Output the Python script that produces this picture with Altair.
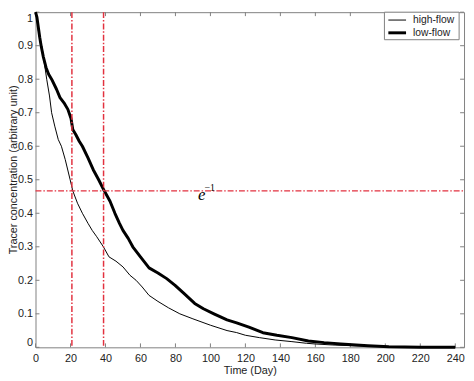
import altair as alt
import pandas as pd

# ---- data ----
high_day = [0, 1, 2, 3.6, 5, 6.4, 8, 9.2, 11, 13, 14.8, 17, 19.8, 21.3, 24, 26.8, 30,
            32.4, 35, 38.8, 42, 46, 50, 54, 57.5, 61, 64.9, 70, 76, 82.5, 90, 100,
            109.5, 115, 120, 128, 137, 146.6, 155, 160, 170, 180, 200, 220, 240]
high_val = [1.0, 0.97, 0.93, 0.90, 0.85, 0.80, 0.75, 0.70, 0.66, 0.62, 0.60, 0.56, 0.50,
            0.467, 0.43, 0.40, 0.37, 0.349, 0.33, 0.30, 0.27, 0.257, 0.24, 0.215, 0.20,
            0.18, 0.155, 0.137, 0.118, 0.10, 0.085, 0.066, 0.05, 0.044, 0.036, 0.029,
            0.022, 0.017, 0.012, 0.010, 0.007, 0.005, 0.002, 0.001, 0.0]

low_day = [0, 0.8, 1.6, 2.4, 3.2, 4.5, 6, 7.5, 9.2, 12, 14, 16.6, 18.5, 20.3, 21.3, 23,
           25, 26.8, 30, 33, 36.1, 39.3, 42.6, 45.4, 48, 50, 53, 55.6, 60, 64.9, 70, 75,
           79.8, 85, 91, 96, 102, 109.5, 115, 122, 130, 138, 146.6, 156, 165, 174.5, 190,
           202, 220, 240]
low_val = [1.0, 0.985, 0.955, 0.925, 0.90, 0.866, 0.835, 0.815, 0.80, 0.77, 0.745,
           0.727, 0.71, 0.683, 0.65, 0.635, 0.615, 0.60, 0.565, 0.53, 0.50, 0.467, 0.436,
           0.40, 0.37, 0.349, 0.325, 0.30, 0.27, 0.237, 0.222, 0.205, 0.185, 0.16, 0.131,
           0.115, 0.10, 0.082, 0.073, 0.06, 0.0436, 0.036, 0.029, 0.019, 0.014, 0.01,
           0.005, 0.002, 0.0005, 0.0]

series_names = ["high-flow", "low-flow"]
series_widths = [1, 3]
vline_days = [20.8, 38.9]
hline_value = [0.467]
x_ticks = [0, 20, 40, 60, 80, 100, 120, 140, 160, 180, 200, 220, 240]
y_ticks = [0, 0.1, 0.2, 0.3, 0.4, 0.5, 0.6, 0.7, 0.8, 0.9, 1]

curves = pd.concat([
    pd.DataFrame({"day": high_day, "value": high_val, "series": series_names[0]}),
    pd.DataFrame({"day": low_day, "value": low_val, "series": series_names[1]}),
])

W, H = 436, 341
RED = "#e2313f"
GRAY = "#808080"
FONT = "Liberation Sans"

xs = alt.Scale(domain=[0, 245], nice=False, zero=False)
ys = alt.Scale(domain=[0, 1], nice=False)

x_axis = alt.Axis(values=x_ticks, tickSize=0, domain=False, grid=False,
                  labelPadding=5, labelFlush=False, titlePadding=2)
y_axis = alt.Axis(values=y_ticks, format="~g", tickSize=0, domain=False, grid=False,
                  labelPadding=3, labelFlush=True,
                  titleX=-17, titleY=160, titleBaseline="bottom")
XT = "Time (Day)"
YT = "Tracer concentration (arbitrary unit)"


def X(f):
    return alt.X(f, scale=xs, axis=x_axis, title=XT)


def Y(f):
    return alt.Y(f, scale=ys, axis=y_axis, title=YT)


xt = pd.DataFrame({"t": x_ticks})
yt = pd.DataFrame({"v": y_ticks})
tick_bot = alt.Chart(xt).mark_rule(color=GRAY).encode(
    x=X("t:Q"), y=alt.value(H - 4), y2=alt.value(H))
tick_top = alt.Chart(xt).mark_rule(color=GRAY).encode(
    x=X("t:Q"), y=alt.value(0), y2=alt.value(4))
tick_left = alt.Chart(yt).mark_rule(color=GRAY).encode(
    y=Y("v:Q"), x=alt.value(0), x2=alt.value(4))
tick_right = alt.Chart(yt).mark_rule(color=GRAY).encode(
    y=Y("v:Q"), x=alt.value(W - 4), x2=alt.value(W))

lines = alt.Chart(curves).mark_line(color="black", strokeJoin="round").encode(
    x=X("day:Q"),
    y=Y("value:Q"),
    strokeWidth=alt.StrokeWidth("series:N",
                                scale=alt.Scale(domain=series_names, range=series_widths),
                                legend=None),
    detail="series:N",
)

vdf = pd.DataFrame({"day": vline_days})
vlines = alt.Chart(vdf).mark_rule(color=RED, strokeWidth=1.5,
                                  strokeDash=[6, 2, 1.5, 2]).encode(
    x=X("day:Q"), y=alt.value(0), y2=alt.value(H))

hdf = pd.DataFrame({"value": hline_value})
hlines = alt.Chart(hdf).mark_rule(color=RED, strokeWidth=1.3,
                                  strokeDash=[6, 2, 1.5, 2]).encode(
    y=Y("value:Q"), x=alt.value(0), x2=alt.value(W))

e_df = pd.DataFrame({"day": [95.0], "value": [0.439], "t": ["e"]})
e_text = alt.Chart(e_df).mark_text(font="Liberation Serif", fontStyle="italic",
                                   fontSize=17, color="black", baseline="alphabetic",
                                   align="center").encode(
    x=X("day:Q"), y=Y("value:Q"), text="t:N")
sup_df = pd.DataFrame({"day": [99.6], "value": [0.466], "t": ["\u22121"]})
sup_text = alt.Chart(sup_df).mark_text(font="Liberation Serif", fontSize=10,
                                       color="black", baseline="alphabetic",
                                       align="center").encode(
    x=X("day:Q"), y=Y("value:Q"), text="t:N")

# ---- legend box (top-right, inside the plot) ----
LX, LY, LW, LH = 355, 0, 76, 28
legend_box = alt.Chart(pd.DataFrame({"series": [series_names[0]]})).mark_rect(
    fill="white", stroke=GRAY, strokeWidth=1).encode(
    x=alt.value(LX), x2=alt.value(LX + LW), y=alt.value(LY), y2=alt.value(LY + LH))
legend_layers = [legend_box]
for i, (name, sw) in enumerate(zip(series_names, series_widths)):
    row_y = LY + 8 + 13 * i
    ldf = pd.DataFrame({"series": [name]})
    legend_layers.append(
        alt.Chart(ldf).mark_rule(color="black", strokeWidth=sw).encode(
            x=alt.value(LX + 4), x2=alt.value(LX + 22), y=alt.value(row_y)))
    legend_layers.append(
        alt.Chart(ldf).mark_text(align="left", baseline="middle", font=FONT,
                                 fontSize=10.5, color="#222").encode(
            x=alt.value(LX + 29), y=alt.value(row_y), text="series:N"))

chart = alt.layer(
    tick_bot, tick_left, tick_top, tick_right, lines, vlines, hlines, e_text, sup_text,
    *legend_layers
).properties(
    width=W, height=H,
    autosize=alt.AutoSizeParams(type="none"),
    padding={"left": 28, "top": 1, "right": 2, "bottom": 31},
).configure_view(
    stroke=GRAY, strokeWidth=1
).configure_axis(
    labelFont=FONT, titleFont=FONT, labelFontSize=11, titleFontSize=11,
    labelColor="#222", titleColor="#222", titleFontWeight="normal"
)

chart.save("out.html", embed_options={"renderer": "svg", "actions": False})
